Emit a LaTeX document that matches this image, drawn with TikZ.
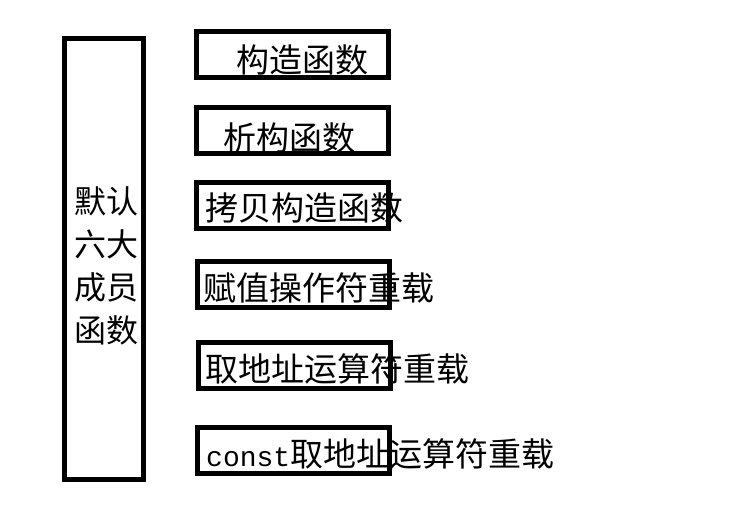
\documentclass[tikz,border=0pt]{standalone}
\usepackage{fontspec}
\newfontfamily\cjk{Noto Sans CJK SC}
\newfontfamily\latinmono{Liberation Mono}
\usepackage{tikz}
\usetikzlibrary{positioning}

\begin{document}
\begin{tikzpicture}[x=1pt, y=-1pt,
    box/.style={draw, line width=5pt, minimum width=192pt, minimum height=46pt, inner sep=0pt},
    label/.style={anchor=west, inner sep=0pt, font=\cjk\fontsize{33}{43}\selectfont}]
\useasboundingbox (0,0) rectangle (741,525);
% Left column
\node[draw, line width=5pt, minimum width=79pt, minimum height=441pt, inner sep=0pt] (group) at (104,259) {};
\node[inner sep=0pt, align=center, font=\cjk\fontsize{32}{43}\selectfont] (grouptext) at (106.5,266) {默认\\六大\\成员\\函数};
% Right boxes
\node[box] (ctor) at (292.5,54.5) {};
\node[box] (dtor) at (292.5,130) {};
\node[box] (copy) at (292.5,205) {};
\node[box] (assign) at (293.5,284.5) {};
\node[box] (addr) at (294.5,365.5) {};
\node[box] (caddr) at (293.5,450.5) {};
% Texts
\node[label] (ctortext) at (236,59.5) {构造函数};
\node[label] (dtortext) at (223,137.5) {析构函数};
\node[label] (copytext) at (205,207.5) {拷贝构造函数};
\node[label] (assigntext) at (203,287.5) {赋值操作符重载};
\node[label] (addrtext) at (205,368.5) {取地址运算符重载};
\node[label] (caddrtext) at (206,454) {{\latinmono\fontsize{28}{43}\selectfont const}取地址运算符重载};
\end{tikzpicture}
\end{document}
